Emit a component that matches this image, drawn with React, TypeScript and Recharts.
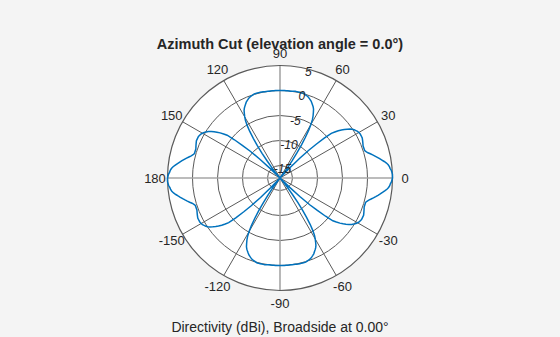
import { PolarAngleAxis, PolarGrid, PolarRadiusAxis, Radar, RadarChart } from 'recharts'

// directivity (dBi) read off the first quadrant, 0..90 deg in 1 deg steps
// the cut is symmetric about both axes; -17.5 is the plot floor (centre)
const QUADRANT_DB = [
  5.0, 5.0, 4.9, 4.8, 4.6, 4.5, 4.3, 4.0, 3.6, 3.2,
  2.8, 2.4, 2.0, 1.6, 1.2, 0.8, 0.5, 0.3, 0.3, 0.3,
  0.3, 0.4, 0.5, 0.6, 0.7, 0.8, 0.8, 0.8, 0.8, 0.7,
  0.6, 0.4, 0.2, -0.1, -0.4, -0.9, -1.4, -1.9, -2.5, -3.2,
  -3.9, -5.6, -7.6, -9.5, -12.0, -14.8, -17.5, -17.5, -17.5, -17.5,
  -17.5, -17.5, -16.0, -14.8, -13.3, -11.4, -9.6, -8.0, -6.4, -5.1,
  -4.1, -3.4, -2.8, -2.2, -1.8, -1.5, -1.2, -0.9, -0.7, -0.5,
  -0.3, -0.2, -0.1, 0.0, 0.1, 0.1, 0.1, 0.1, 0.1, 0.1,
  0.05, 0.0, 0.0, 0.0, 0.0, 0.0, 0.0, 0.0, 0.0, 0.0,
  0.0,
]

const ANGLE_TICKS = [0, 30, 60, 90, 120, 150, 180, 210, 240, 270, 300, 330]
const ANGLE_TICK_LABELS = ['0', '30', '60', '90', '120', '150', '180', '-150', '-120', '-90', '-60', '-30']
const RADIUS_TICKS = [-15, -10, -5, 0, 5]
const RADIUS_DOMAIN: [number, number] = [-17.5, 5]

const CX = 280
const CY = 178
const OUTER = 112.5
const LINE_COLOR = '#0072bd'
const TEXT_COLOR = '#262626'
const FONT = 'Arial, "Liberation Sans", Helvetica, sans-serif'

function dbAt(angle: number) {
  if (angle <= 90) return QUADRANT_DB[angle]
  if (angle <= 180) return QUADRANT_DB[180 - angle]
  if (angle <= 270) return QUADRANT_DB[angle - 180]
  return QUADRANT_DB[360 - angle]
}

const data = Array.from({ length: 360 }, (_, angle) => ({ angle, value: dbAt(angle) }))

const ringRadii = RADIUS_TICKS.slice(0, -1).map(
  (v) => ((v - RADIUS_DOMAIN[0]) / (RADIUS_DOMAIN[1] - RADIUS_DOMAIN[0])) * OUTER,
)

function AngleTick(props: any) {
  const value = Number(props.payload?.value)
  const idx = ANGLE_TICKS.indexOf(value)
  if (idx < 0) return <g />
  const rad = (value * Math.PI) / 180
  const x = CX + 125 * Math.cos(rad)
  const y = CY - 125 * Math.sin(rad)
  return (
    <text x={x} y={y} textAnchor="middle" dominantBaseline="central" fill={TEXT_COLOR} fontSize={13} fontFamily={FONT}>
      {ANGLE_TICK_LABELS[idx]}
    </text>
  )
}

function RadiusTick(props: any) {
  // pull the label a little inside its ring, like the reference
  const dx = props.x - CX
  const dy = props.y - CY
  const r = Math.hypot(dx, dy) || 1
  const k = Math.max(r - 3, 0) / r
  return (
    <text
      x={CX + dx * k}
      y={CY + dy * k}
      textAnchor="middle"
      dominantBaseline="central"
      fill={TEXT_COLOR}
      fontSize={12}
      fontStyle="italic"
      fontFamily={FONT}
    >
      {props.payload?.value}
    </text>
  )
}

export default function App() {
  return (
    <div
      style={{
        position: 'fixed',
        left: 0,
        top: 0,
        width: 560,
        height: 337,
        background: '#f4f4f4',
        fontFamily: FONT,
        color: TEXT_COLOR,
      }}
    >
      <div
        style={{
          position: 'absolute',
          left: CX - OUTER,
          top: CY - OUTER,
          width: OUTER * 2,
          height: OUTER * 2,
          borderRadius: '50%',
          background: '#ffffff',
        }}
      />
      <div
        style={{
          position: 'absolute',
          left: 0,
          width: 560,
          top: 35,
          textAlign: 'center',
          fontSize: 14.5,
          fontWeight: 'bold',
          lineHeight: '18px',
        }}
      >
        Azimuth Cut (elevation angle = 0.0°)
      </div>
      <div style={{ position: 'absolute', left: 0, top: 0 }}>
        <RadarChart
          width={560}
          height={337}
          data={data}
          cx={CX}
          cy={CY}
          innerRadius={0}
          outerRadius={OUTER}
          startAngle={0}
          endAngle={360}
          margin={{ top: 0, right: 0, bottom: 0, left: 0 }}
        >
          <PolarGrid gridType="circle" polarAngles={[30, 60, 120, 150, 210, 240, 300, 330]} polarRadius={ringRadii} stroke="#5a5a5a" strokeWidth={1} />
          <PolarGrid gridType="circle" polarAngles={[0, 90, 180, 270]} polarRadius={[]} stroke="#a6a6a6" strokeWidth={1.6} />
          <PolarGrid gridType="circle" polarAngles={[]} polarRadius={[OUTER]} stroke="#5a5a5a" strokeWidth={1.2} />
          <PolarAngleAxis dataKey="angle" tick={AngleTick} tickLine={false} axisLine={false} />
          <PolarRadiusAxis
            angle={75}
            type="number"
            domain={RADIUS_DOMAIN}
            ticks={RADIUS_TICKS}
            tick={RadiusTick}
            axisLine={false}
            tickLine={false}
            allowDataOverflow
          />
          <Radar
            dataKey="value"
            stroke={LINE_COLOR}
            strokeWidth={1.5}
            fill="none"
            fillOpacity={0}
            dot={false}
            isAnimationActive={false}
          />
        </RadarChart>
      </div>
      <div
        style={{
          position: 'absolute',
          left: 0,
          width: 560,
          top: 318,
          textAlign: 'center',
          fontSize: 14,
          lineHeight: '18px',
        }}
      >
        Directivity (dBi), Broadside at 0.00°
      </div>
    </div>
  )
}
